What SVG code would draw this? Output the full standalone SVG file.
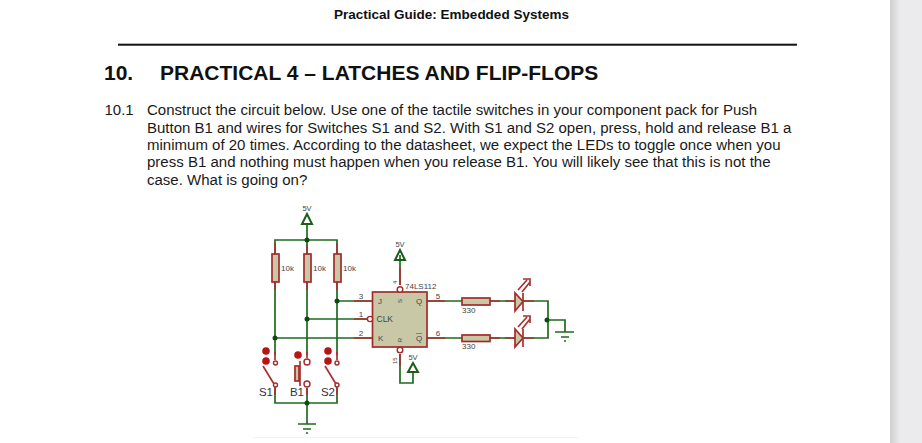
<svg xmlns="http://www.w3.org/2000/svg" width="922" height="443" viewBox="0 0 922 443">
<defs>
<linearGradient id="edge" x1="0" x2="1" y1="0" y2="0"><stop offset="0" stop-color="#cfcfcf"/><stop offset="1" stop-color="#ebebed"/></linearGradient>
</defs>
<style>
text{font-family:"Liberation Sans",Arial,sans-serif;fill:#1a1a1a}
.body{font-size:15.03px}
.h{font-size:21px;font-weight:bold;fill:#111}
.s{font-size:8px;fill:#444}
.sw{font-size:11.5px;text-anchor:middle;fill:#333}
.g{fill:none;stroke:#1f6b1f;stroke-width:1.7}
.r{fill:none;stroke:#a83232;stroke-width:1.7}
.body2{fill:#c8c8a6;stroke:#a52a2a;stroke-width:1.7}
.j{fill:#0e4a0e}
.pin{fill:#fff;stroke:#a52a2a;stroke-width:1.4}
.dot{fill:#b81414}
.pw{fill:none;stroke:#1a5e1a;stroke-width:2}
.tiny{font-size:7.5px;fill:#444}
.mini{font-size:6px;fill:#444}
</style>
<rect width="922" height="443" fill="#fff"/>
<rect x="890" width="32" height="443" fill="#ebebed"/>
<rect x="890" width="10" height="443" fill="url(#edge)"/>
<text x="451.5" y="19" font-size="13.5" font-weight="bold" text-anchor="middle" style="fill:#111">Practical Guide: Embedded Systems</text>
<rect x="118" y="43.700" width="679" height="2" fill="#111"/>
<text class="h" x="104" y="80">10.</text>
<text class="h" x="160" y="80">PRACTICAL 4 – LATCHES AND FLIP-FLOPS</text>
<text class="body" x="104.500" y="115">10.1</text>
<text class="body" x="147" y="115">Construct the circuit below. Use one of the tactile switches in your component pack for Push</text>
<text class="body" x="147" y="132.500">Button B1 and wires for Switches S1 and S2. With S1 and S2 open, press, hold and release B1 a</text>
<text class="body" x="147" y="150">minimum of 20 times. According to the datasheet, we expect the LEDs to toggle once when you</text>
<text class="body" x="147" y="167">press B1 and nothing must happen when you release B1. You will likely see that this is not the</text>
<text class="body" x="147" y="185">case. What is going on?</text>
<g id="connectors">
<path class="g" d="M307 224V240M275 254V240H337V254M307 240V254M275 282V355M307 282V355M337 282V355M337 301H373M275 338H373M307 319H368M400 255V285"/>
<path class="g" d="M275 387V403H337V387M307 388V424M400 354V383H413V372"/>
<path class="g" d="M427 301H462M427 338H462M490 301H515M490 338H515M523 301H548V338H523M548 320H565V332"/>
<path class="r" d="M275 243V254M307 245V254M337 243V254M275 282V290M307 282V290M337 282V290M354 301H373M354 319H368M354 338H373M400 268V285M275 352V360M307 352V358M337 352V360M275 388V395M307 388V395M337 388V395M400 354V366M427 301H445M427 338H445M490 301H500M490 338H500M505 301H515M505 338H515M523 301H534M523 338H534"/>
</g>
<g id="power-top"><text class="tiny" x="307" y="211" text-anchor="middle">5V</text><path class="pw" d="M307 214L302 224H312Z"/></g>
<g id="r1"><rect class="body2" x="272" y="254" width="7" height="28"/><text class="s" x="281" y="271">10k</text></g>
<g id="r2"><rect class="body2" x="304" y="254" width="7" height="28"/><text class="s" x="313" y="271">10k</text></g>
<g id="r3"><rect class="body2" x="334" y="254" width="7" height="28"/><text class="s" x="343" y="271">10k</text></g>
<g id="junctions"><circle class="j" cx="307" cy="240" r="2.500"/><circle class="j" cx="337" cy="301" r="2.500"/><circle class="j" cx="307" cy="319" r="2.500"/><circle class="j" cx="275" cy="338" r="2.500"/><circle class="j" cx="307" cy="403" r="2.500"/><circle class="j" cx="547" cy="320" r="2.500"/></g>
<g id="s1"><circle class="dot" cx="266" cy="351" r="3.800"/><circle class="dot" cx="266" cy="361" r="3.800"/><circle class="pin" cx="275.500" cy="363" r="2"/><circle class="pin" cx="275.500" cy="385" r="2"/><path class="r" d="M263 366L274 384"/><text class="sw" x="266" y="396">S1</text></g>
<g id="b1"><circle class="dot" cx="298" cy="355" r="3.800"/><path class="r" d="M300 361V386"/><rect class="body2" x="295" y="366" width="4" height="15"/><circle class="pin" cx="307" cy="362" r="3"/><circle class="pin" cx="307" cy="384" r="3"/><text class="sw" x="297" y="396">B1</text></g>
<g id="s2"><circle class="dot" cx="328" cy="351" r="3.800"/><circle class="dot" cx="328" cy="361" r="3.800"/><circle class="pin" cx="337" cy="363" r="2"/><circle class="pin" cx="337" cy="385" r="2"/><path class="r" d="M325 366L336 384"/><text class="sw" x="328" y="396">S2</text></g>
<g id="gnd1"><path class="g" d="M298 424H316M303 429H311M306 433H308"/></g>
<g id="u1">
<rect class="body2" x="372.500" y="292" width="54.500" height="55"/>
<text class="s" x="378" y="304">J</text><text class="s" x="378" y="341">K</text><text class="s" x="376.500" y="322" style="font-size:8.500px">CLK</text>
<text class="s" x="416" y="304">Q</text><text class="s" x="416" y="341">Q</text><path d="M416 333.500H422" fill="none" stroke="#555" stroke-width=".6"/>
<text class="mini" transform="translate(402 301) rotate(-90)" text-anchor="middle">S</text>
<text class="mini" transform="translate(402 340) rotate(-90)" text-anchor="middle">R</text>
<circle class="pin" cx="400" cy="289.500" r="2.800"/><circle class="pin" cx="400" cy="350" r="2.800"/><circle class="pin" cx="370" cy="319" r="2.600"/>
<text class="s" x="405" y="289">74LS112</text>
<text class="s" x="361" y="299" text-anchor="middle">3</text><text class="s" x="361" y="317" text-anchor="middle">1</text><text class="s" x="361" y="336" text-anchor="middle">2</text>
<text class="s" x="438" y="299" text-anchor="middle">5</text><text class="s" x="438" y="336" text-anchor="middle">6</text>
<text class="mini" transform="translate(397 284) rotate(-90)">4</text><text class="mini" transform="translate(397 364) rotate(-90)">15</text>
</g>
<g id="power-s"><text class="tiny" x="400" y="247" text-anchor="middle">5V</text><path class="pw" d="M400 250L395 260H405Z"/></g>
<g id="power-r"><text class="tiny" x="413" y="360" text-anchor="middle">5V</text><path class="pw" d="M413 363L408 372H418Z"/></g>
<g id="r4"><rect class="body2" x="462" y="298" width="28" height="7"/><text class="s" x="462" y="313">330</text></g>
<g id="r5"><rect class="body2" x="462" y="335" width="28" height="6.500"/><text class="s" x="462" y="349">330</text></g>
<g id="d1"><path class="body2" d="M515 293V311L523 301.500Z"/><path class="r" d="M523 293V311M518 290L527 280M522 292L530 282M523 279H530V286"/></g>
<g id="d2"><path class="body2" d="M515 329V347L523 338Z"/><path class="r" d="M523 329V347M518 327L527 317M522 329L530 319M523 316H530V323"/></g>
<g id="gnd2"><path class="g" d="M555 332H574M561 337H569M564 341H566"/></g>
<rect x="253" y="437" width="325" height="1" fill="#f2f2f2"/>
</svg>
